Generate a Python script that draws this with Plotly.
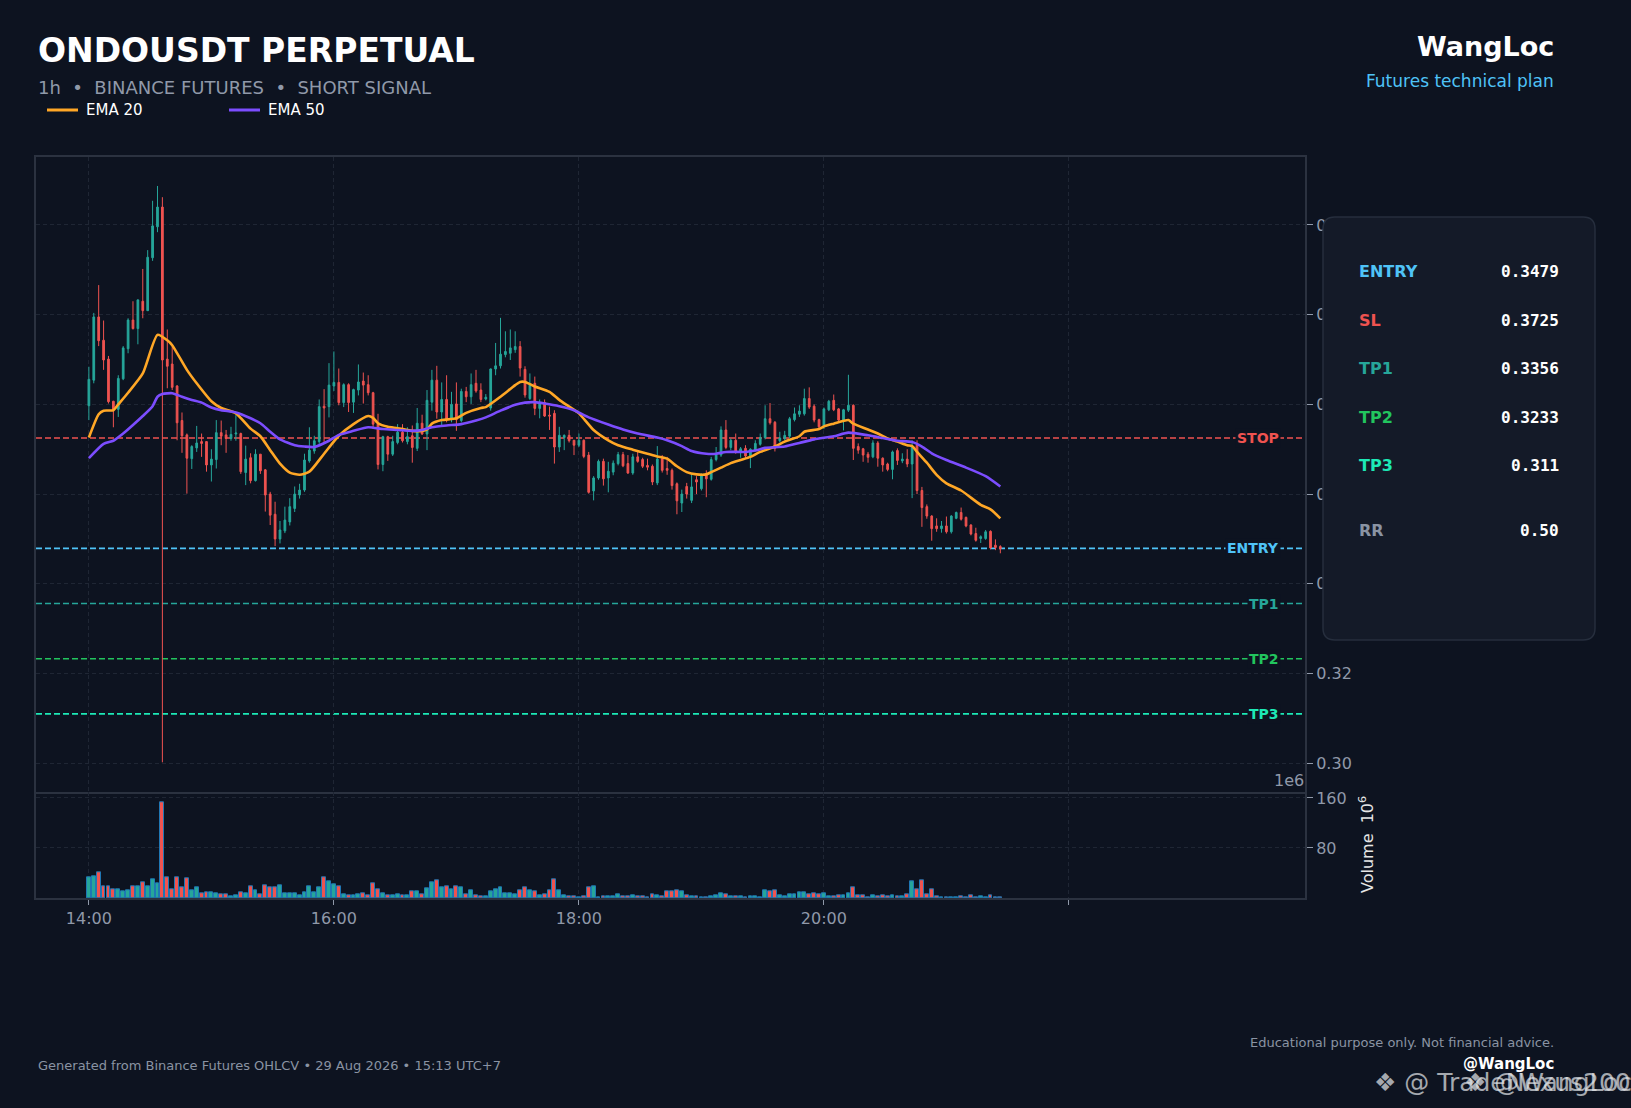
import plotly.graph_objects as go
from plotly.subplots import make_subplots
import pandas as pd

# ---------------- data ----------------
opens = [0.3797,0.3854,0.3995,0.3943,0.3901,0.3807,0.3789,0.3857,0.3924,0.3988,
         0.3969,0.4030,0.4009,0.4127,0.4196,0.4240,0.3901,0.3890,0.3841,0.3764,
         0.3732,0.3679,0.3703,0.3717,0.3717,0.3665,0.3677,0.3737,0.3732,0.3724,
         0.3734,0.3735,0.3648,0.3681,0.3630,0.3689,0.3654,0.3600,0.3555,0.3500,
         0.3518,0.3538,0.3568,0.3598,0.3609,0.3674,0.3696,0.3717,0.3796,0.3795,
         0.3841,0.3849,0.3804,0.3844,0.3805,0.3832,0.3852,0.3844,0.3826,0.3756,
         0.3666,0.3728,0.3689,0.3715,0.3738,0.3717,0.3730,0.3702,0.3758,0.3734,
         0.3805,0.3854,0.3783,0.3811,0.3768,0.3801,0.3764,0.3829,0.3817,0.3847,
         0.3832,0.3812,0.3792,0.3879,0.3886,0.3911,0.3914,0.3922,0.3929,0.3878,
         0.3813,0.3847,0.3791,0.3804,0.3776,0.3780,0.3705,0.3726,0.3731,0.3720,
         0.3709,0.3720,0.3687,0.3607,0.3636,0.3673,0.3636,0.3649,0.3668,0.3688,
         0.3668,0.3647,0.3683,0.3677,0.3664,0.3662,0.3625,0.3679,0.3657,0.3653,
         0.3623,0.3580,0.3617,0.3586,0.3632,0.3612,0.3645,0.3633,0.3677,0.3687,
         0.3743,0.3704,0.3720,0.3694,0.3702,0.3685,0.3698,0.3711,0.3726,0.3768,
         0.3760,0.3719,0.3724,0.3729,0.3766,0.3778,0.3779,0.3813,0.3796,0.3766,
         0.3750,0.3788,0.3809,0.3790,0.3765,0.3787,0.3798,0.3706,0.3701,0.3689,
         0.3683,0.3714,0.3680,0.3667,0.3655,0.3697,0.3674,0.3678,0.3667,0.3709,
         0.3608,0.3572,0.3551,0.3529,0.3523,0.3529,0.3516,0.3546,0.3559,0.3548,
         0.3531,0.3512,0.3501,0.3501,0.3517,0.3486,0.3483]
highs = [0.3884,0.4004,0.4066,0.3987,0.3908,0.3808,0.3865,0.3930,0.3992,0.4030,
         0.4034,0.4102,0.4144,0.4254,0.4287,0.4262,0.3967,0.3929,0.3843,0.3782,
         0.3735,0.3709,0.3752,0.3735,0.3717,0.3700,0.3765,0.3764,0.3743,0.3750,
         0.3776,0.3737,0.3708,0.3691,0.3700,0.3689,0.3656,0.3605,0.3583,0.3540,
         0.3572,0.3591,0.3617,0.3623,0.3690,0.3749,0.3730,0.3811,0.3834,0.3892,
         0.3918,0.3880,0.3847,0.3847,0.3835,0.3889,0.3871,0.3865,0.3828,0.3779,
         0.3730,0.3730,0.3730,0.3756,0.3756,0.3749,0.3753,0.3792,0.3777,0.3832,
         0.3877,0.3886,0.3849,0.3865,0.3828,0.3849,0.3835,0.3839,0.3869,0.3877,
         0.3847,0.3823,0.3880,0.3937,0.3993,0.3963,0.3967,0.3963,0.3941,0.3885,
         0.3869,0.3862,0.3811,0.3811,0.3795,0.3787,0.3750,0.3733,0.3743,0.3720,
         0.3735,0.3722,0.3694,0.3640,0.3677,0.3679,0.3672,0.3675,0.3694,0.3694,
         0.3687,0.3690,0.3698,0.3681,0.3679,0.3666,0.3707,0.3687,0.3683,0.3657,
         0.3626,0.3610,0.3625,0.3645,0.3640,0.3646,0.3653,0.3683,0.3705,0.3751,
         0.3765,0.3724,0.3735,0.3705,0.3709,0.3702,0.3720,0.3735,0.3798,0.3803,
         0.3763,0.3739,0.3741,0.3772,0.3793,0.3798,0.3835,0.3838,0.3800,0.3768,
         0.3793,0.3810,0.3822,0.3792,0.3790,0.3866,0.3800,0.3713,0.3703,0.3694,
         0.3720,0.3718,0.3682,0.3670,0.3697,0.3702,0.3691,0.3700,0.3720,0.3720,
         0.3616,0.3577,0.3553,0.3546,0.3540,0.3550,0.3553,0.3561,0.3570,0.3550,
         0.3533,0.3525,0.3508,0.3520,0.3519,0.3499,0.3486]
lows = [0.3765,0.3847,0.3930,0.3877,0.3802,0.3749,0.3772,0.3854,0.3914,0.3967,
        0.3934,0.3992,0.4009,0.4120,0.4184,0.3002,0.3836,0.3832,0.3720,0.3692,
        0.3601,0.3656,0.3694,0.3683,0.3650,0.3628,0.3657,0.3709,0.3692,0.3719,
        0.3719,0.3645,0.3620,0.3624,0.3628,0.3645,0.3561,0.3531,0.3484,0.3490,
        0.3513,0.3530,0.3560,0.3590,0.3605,0.3670,0.3690,0.3712,0.3712,0.3771,
        0.3830,0.3798,0.3794,0.3783,0.3781,0.3820,0.3802,0.3820,0.3745,0.3655,
        0.3651,0.3674,0.3685,0.3711,0.3715,0.3711,0.3670,0.3696,0.3732,0.3698,
        0.3786,0.3768,0.3753,0.3760,0.3760,0.3741,0.3760,0.3805,0.3801,0.3826,
        0.3805,0.3809,0.3786,0.3865,0.3880,0.3905,0.3899,0.3915,0.3862,0.3815,
        0.3810,0.3776,0.3769,0.3772,0.3743,0.3668,0.3694,0.3698,0.3715,0.3687,
        0.3705,0.3680,0.3601,0.3586,0.3632,0.3619,0.3604,0.3642,0.3664,0.3660,
        0.3645,0.3643,0.3670,0.3658,0.3653,0.3620,0.3620,0.3648,0.3643,0.3610,
        0.3555,0.3560,0.3590,0.3580,0.3600,0.3608,0.3593,0.3630,0.3673,0.3683,
        0.3700,0.3698,0.3690,0.3681,0.3680,0.3658,0.3695,0.3708,0.3722,0.3755,
        0.3695,0.3715,0.3720,0.3725,0.3762,0.3772,0.3775,0.3790,0.3760,0.3745,
        0.3745,0.3785,0.3785,0.3760,0.3742,0.3783,0.3676,0.3690,0.3672,0.3670,
        0.3680,0.3661,0.3650,0.3651,0.3633,0.3665,0.3669,0.3660,0.3591,0.3600,
        0.3527,0.3545,0.3496,0.3516,0.3514,0.3512,0.3512,0.3544,0.3541,0.3526,
        0.3508,0.3494,0.3491,0.3498,0.3477,0.3475,0.3468]
closes = [0.3856,0.3995,0.3942,0.3899,0.3806,0.3789,0.3858,0.3926,0.3988,0.3969,
          0.4033,0.4009,0.4128,0.4198,0.4240,0.3899,0.3885,0.3838,0.3759,0.3730,
          0.3680,0.3706,0.3714,0.3713,0.3665,0.3678,0.3737,0.3729,0.3724,0.3733,
          0.3736,0.3650,0.3678,0.3630,0.3689,0.3652,0.3598,0.3553,0.3500,0.3520,
          0.3542,0.3572,0.3600,0.3609,0.3676,0.3698,0.3719,0.3795,0.3792,0.3843,
          0.3849,0.3804,0.3844,0.3804,0.3833,0.3850,0.3843,0.3826,0.3756,0.3666,
          0.3728,0.3689,0.3717,0.3738,0.3719,0.3728,0.3704,0.3758,0.3734,0.3809,
          0.3854,0.3783,0.3811,0.3768,0.3800,0.3766,0.3829,0.3817,0.3844,0.3830,
          0.3811,0.3816,0.3879,0.3886,0.3912,0.3918,0.3926,0.3929,0.3881,0.3821,
          0.3843,0.3791,0.3802,0.3774,0.3774,0.3705,0.3731,0.3731,0.3719,0.3709,
          0.3720,0.3684,0.3604,0.3636,0.3673,0.3634,0.3651,0.3669,0.3688,0.3663,
          0.3647,0.3683,0.3673,0.3662,0.3660,0.3627,0.3678,0.3653,0.3653,0.3619,
          0.3585,0.3600,0.3600,0.3616,0.3627,0.3642,0.3634,0.3677,0.3689,0.3743,
          0.3704,0.3720,0.3694,0.3701,0.3685,0.3700,0.3713,0.3726,0.3768,0.3759,
          0.3702,0.3725,0.3731,0.3768,0.3779,0.3785,0.3813,0.3794,0.3765,0.3750,
          0.3790,0.3807,0.3788,0.3765,0.3788,0.3798,0.3702,0.3698,0.3687,0.3682,
          0.3714,0.3680,0.3665,0.3655,0.3694,0.3675,0.3678,0.3667,0.3706,0.3608,
          0.3570,0.3551,0.3523,0.3523,0.3529,0.3516,0.3551,0.3559,0.3544,0.3529,
          0.3511,0.3497,0.3505,0.3516,0.3480,0.3481,0.3478]
volumes = [32.5,34.1,40.5,19.2,19.2,13.3,13.3,10.1,11.7,19.2,
           19.2,24.5,19.2,29.3,22.9,153.6,33.6,14.4,32.5,17.6,
           32.0,11.7,16.5,8.0,9.6,9.6,8.0,6.4,6.4,3.2,
           4.8,9.6,8.0,19.2,11.7,6.4,20.8,17.6,17.6,20.8,
           8.0,8.0,8.0,4.8,9.6,19.2,9.6,17.6,32.5,26.1,
           21.3,19.2,6.4,4.8,4.8,6.4,8.0,4.8,22.9,13.3,
           8.0,4.8,4.8,6.4,4.8,4.8,10.1,10.1,6.4,14.9,
           24.5,27.7,16.5,19.2,13.3,19.2,16.5,6.4,11.7,4.8,
           3.2,3.2,10.1,13.3,17.6,8.0,8.0,6.4,11.7,17.6,
           11.7,10.1,4.8,6.4,11.7,29.3,11.7,4.8,3.2,3.2,
           1.6,3.2,16.5,18.1,1.6,3.2,3.2,3.2,6.4,3.2,
           3.2,4.8,3.2,3.2,1.6,6.4,4.8,3.2,10.1,10.1,
           11.7,10.1,4.8,3.2,3.2,1.6,1.6,3.2,4.8,8.0,
           6.4,3.2,3.2,3.2,1.6,3.2,3.2,1.6,11.7,10.1,
           11.7,4.8,3.2,6.4,6.4,9.6,9.6,6.4,8.0,6.4,
           8.0,3.2,3.2,4.8,4.8,8.0,16.5,4.8,4.8,1.6,
           4.8,3.2,4.8,3.2,4.8,3.2,3.2,6.4,26.1,13.3,
           27.7,6.4,13.3,3.2,1.6,1.6,1.6,1.6,3.2,1.6,
           4.8,1.6,3.2,1.6,4.8,1.6,0.8]

ema20_idx = [0,2,3,5,6,8,11,14,16,17,20,22,25,27,30,33,35,37,39,41,43,45,48,51,54,57,58,59,61,63,
             66,68,69,70,72,75,77,80,81,84,87,88,89,91,94,96,98,100,103,106,108,111,114,116,118,
             120,122,124,126,127,129,131,133,135,137,140,142,145,146,149,150,152,155,156,159,161,
             163,165,167,168,169,171,173,175,178,182,184,186]
ema20_val = [0.3726,0.3778,0.3786,0.3787,0.3800,0.3826,0.3869,0.3955,0.3943,0.3932,0.3877,0.3847,
             0.3807,0.3792,0.3780,0.3746,0.3729,0.3698,0.3668,0.3648,0.3643,0.3650,0.3690,0.3730,
             0.3756,0.3774,0.3770,0.3758,0.3750,0.3747,0.3741,0.3741,0.3744,0.3757,0.3765,0.3769,
             0.3781,0.3792,0.3794,0.3817,0.3843,0.3850,0.3850,0.3840,0.3828,0.3810,0.3795,0.3780,
             0.3743,0.3720,0.3709,0.3699,0.3690,0.3684,0.3679,0.3662,0.3649,0.3644,0.3644,0.3649,
             0.3659,0.3669,0.3676,0.3683,0.3694,0.3706,0.3717,0.3729,0.3739,0.3745,0.3751,0.3757,
             0.3765,0.3757,0.3744,0.3735,0.3724,0.3717,0.3709,0.3707,0.3694,0.3670,0.3643,0.3624,
             0.3608,0.3576,0.3566,0.3546]
ema50_idx = [0,3,5,7,9,11,13,14,15,17,19,21,23,25,27,30,33,35,37,39,42,44,46,49,51,54,57,60,63,66,
             68,70,73,76,79,81,84,87,89,91,93,96,99,102,106,109,112,116,118,121,123,126,128,130,
             134,136,138,142,145,148,152,155,159,162,165,168,170,172,175,179,183,186]
ema50_val = [0.3680,0.3712,0.3719,0.3735,0.3754,0.3774,0.3796,0.3817,0.3823,0.3825,0.3817,0.3810,
             0.3804,0.3793,0.3787,0.3782,0.3769,0.3758,0.3739,0.3722,0.3709,0.3706,0.3705,0.3719,
             0.3732,0.3741,0.3749,0.3745,0.3743,0.3741,0.3743,0.3749,0.3753,0.3756,0.3764,0.3771,
             0.3786,0.3799,0.3804,0.3805,0.3802,0.3796,0.3787,0.3771,0.3755,0.3744,0.3735,0.3726,
             0.3720,0.3707,0.3696,0.3690,0.3690,0.3694,0.3694,0.3697,0.3703,0.3706,0.3714,0.3722,
             0.3729,0.3737,0.3731,0.3725,0.3719,0.3716,0.3706,0.3691,0.3676,0.3659,0.3640,0.3617]

level_names = ["STOP", "ENTRY", "TP1", "TP2", "TP3"]
level_values = [0.3725, 0.3479, 0.3356, 0.3233, 0.311]
level_colors = ["#ef5350", "#4fc3f7", "#26a69a", "#22c55e", "#1de9b6"]

panel_labels = ["ENTRY", "SL", "TP1", "TP2", "TP3", "RR"]
panel_values = ["0.3479", "0.3725", "0.3356", "0.3233", "0.311", "0.50"]
panel_colors = ["#4fc3f7", "#ef5350", "#26a69a", "#22c55e", "#1de9b6", "#8a93a3"]

x_tick_hours = [14, 16, 18, 20, 22]
x_tick_labels = ["14:00", "16:00", "18:00", "20:00", " "]
price_ticks = [0.30, 0.32, 0.34, 0.36, 0.38, 0.40, 0.42]
vol_ticks = [80, 160]

# ---------------- styling / geometry ----------------
W, H = 1631, 1108
ML, MR, MT, MB = 36, 326, 157, 210
PW, PH = W - ML - MR, H - MT - MB
BG = "#0d1320"
PANEL_BG = "#141a28"
FRAME = "#2b3240"
GRID = "#1f2634"
TXT_GRAY = "#9099a9"
UP, DOWN = "#26a69a", "#ef5350"
FONT = "DejaVu Sans"


def xp(px):
    return (px - ML) / PW


def yp(py):
    return (H - MB - py) / PH


start = pd.Timestamp("2026-08-29 14:00:00")
step = pd.Timedelta(seconds=144)
times = [start + i * step for i in range(len(opens))]
vol_colors = [UP if c >= o else DOWN for o, c in zip(opens, closes)]
ema20_t = [times[i] for i in ema20_idx]
ema50_t = [times[i] for i in ema50_idx]
tickvals = [start + pd.Timedelta(hours=h - 14) for h in x_tick_hours]
x_range = [start - pd.Timedelta(minutes=25.9), start + pd.Timedelta(hours=9.927)]

vol_split = (H - MB - 792.3) / PH

fig = make_subplots(rows=2, cols=1, shared_xaxes=True, vertical_spacing=0)

fig.add_trace(go.Candlestick(
    x=times, open=opens, high=highs, low=lows, close=closes,
    increasing=dict(line=dict(color=UP, width=1), fillcolor=UP),
    decreasing=dict(line=dict(color=DOWN, width=1), fillcolor=DOWN),
    showlegend=False, name="ONDOUSDT"), row=1, col=1)

fig.add_trace(go.Scatter(x=ema20_t, y=ema20_val, mode="lines", name="EMA 20",
                         line=dict(color="#ffa726", width=2.6, shape="spline", smoothing=0.6),
                         showlegend=False), row=1, col=1)
fig.add_trace(go.Scatter(x=ema50_t, y=ema50_val, mode="lines", name="EMA 50",
                         line=dict(color="#7c4dff", width=2.6, shape="spline", smoothing=0.6),
                         showlegend=False), row=1, col=1)

fig.add_trace(go.Bar(x=times, y=volumes, marker=dict(color=vol_colors,
                                                      line=dict(color="#1f77b4", width=1)),
                     width=0.78 * 144000, showlegend=False, name="Volume"), row=2, col=1)

# level lines + labels
for name, val, col in zip(level_names, level_values, level_colors):
    fig.add_shape(type="line", xref="x domain", x0=0, x1=1, yref="y", y0=val, y1=val,
                  line=dict(color=col, width=1.6, dash="6px,3px"), layer="below")
    fig.add_annotation(x=xp(1281), xref="paper", y=val, yref="y", text=f"<b>{name}</b>",
                       showarrow=False, xanchor="right", yanchor="middle",
                       font=dict(family=FONT, size=14, color=col), bgcolor=BG, borderpad=1)

axis_common = dict(showline=True, linecolor=FRAME, linewidth=2,
                   showgrid=True, gridcolor=GRID, griddash="4px,3px", gridwidth=1,
                   zeroline=False)

fig.update_xaxes(type="date", range=x_range, tickvals=tickvals, ticktext=x_tick_labels,
                 **axis_common)
fig.update_xaxes(showticklabels=False, ticks="", mirror=True, row=1, col=1,
                 rangeslider_visible=False)
fig.update_xaxes(ticks="outside", ticklen=5, tickcolor=TXT_GRAY, mirror=False,
                 tickfont=dict(family=FONT, size=16, color=TXT_GRAY), row=2, col=1)

fig.update_yaxes(range=[0.29351, 0.43516], side="right", tickvals=price_ticks,
                 tickformat=".2f", ticks="outside", ticklen=6, tickcolor=TXT_GRAY, mirror=True,
                 tickfont=dict(family=FONT, size=16, color=TXT_GRAY),
                 domain=[vol_split, 1], row=1, col=1, **axis_common)
fig.update_yaxes(range=[0, 169], side="right", tickvals=vol_ticks, ticks="outside",
                 ticklen=6, tickcolor=TXT_GRAY, mirror=True,
                 tickfont=dict(family=FONT, size=16, color=TXT_GRAY),
                 domain=[0, vol_split], row=2, col=1, **axis_common)

# info panel (rounded rectangle)
x0, x1 = xp(1323), xp(1595)
y0, y1 = yp(640), yp(217)
rx, ry = 12 / PW, 12 / PH
panel_path = (f"M {x0+rx},{y1} L {x1-rx},{y1} Q {x1},{y1} {x1},{y1-ry} "
              f"L {x1},{y0+ry} Q {x1},{y0} {x1-rx},{y0} L {x0+rx},{y0} "
              f"Q {x0},{y0} {x0},{y0+ry} L {x0},{y1-ry} Q {x0},{y1} {x0+rx},{y1} Z")
fig.add_shape(type="path", path=panel_path, xref="paper", yref="paper",
              fillcolor=PANEL_BG, line=dict(color="#262e3d", width=1.5), layer="above")

row_y = [271.5, 320.4, 368.2, 417.1, 465, 530.5]
for lab, val, col, ry_ in zip(panel_labels, panel_values, panel_colors, row_y):
    fig.add_annotation(x=xp(1357), y=yp(ry_), xref="paper", yref="paper", text=f"<b>{lab}</b>",
                       showarrow=False, xanchor="left", yanchor="middle",
                       font=dict(family=FONT, size=16, color=col))
    fig.add_annotation(x=xp(1561), y=yp(ry_), xref="paper", yref="paper", text=f"<b>{val}</b>",
                       showarrow=False, xanchor="right", yanchor="middle",
                       font=dict(family="DejaVu Sans Mono", size=16, color="#ffffff"))

# legend (manual)
for (lx0, lx1, tx, lab, col) in [(47, 78, 84, "EMA 20", "#ffa726"), (229, 260, 266, "EMA 50", "#7c4dff")]:
    fig.add_shape(type="line", xref="paper", yref="paper", x0=xp(lx0), x1=xp(lx1),
                  y0=yp(110), y1=yp(110), line=dict(color=col, width=3), layer="above")
    fig.add_annotation(x=xp(tx), y=yp(110), xref="paper", yref="paper", text=lab,
                       showarrow=False, xanchor="left", yanchor="middle",
                       font=dict(family=FONT, size=15, color="#ffffff"))

texts = [
    dict(x=36, y=51, text="<b>ONDOUSDT PERPETUAL</b>", anchor="left", size=33, color="#ffffff"),
    dict(x=36, y=87, text="1h  •  BINANCE FUTURES  •  SHORT SIGNAL", anchor="left", size=18, color=TXT_GRAY),
    dict(x=1556, y=47, text="<b>WangLoc</b>", anchor="right", size=27, color="#ffffff"),
    dict(x=1556, y=81, text="Futures technical plan", anchor="right", size=17, color="#4fc3f7"),
    dict(x=36, y=1065, text="Generated from Binance Futures OHLCV • 29 Aug 2026 • 15:13 UTC+7",
         anchor="left", size=13, color="#8a93a3"),
    dict(x=1556, y=1042, text="Educational purpose only. Not financial advice.", anchor="right",
         size=13, color="#8a93a3"),
    dict(x=1556, y=1064, text="<b>@WangLoc</b>", anchor="right", size=15, color="#ffffff"),
    dict(x=1289, y=780, text="1e6", anchor="center", size=16, color=TXT_GRAY),
]
for t in texts:
    fig.add_annotation(x=xp(t["x"]), y=yp(t["y"]), xref="paper", yref="paper", text=t["text"],
                       showarrow=False, xanchor=t["anchor"], yanchor="middle",
                       font=dict(family=FONT, size=t["size"], color=t["color"]))

fig.add_annotation(x=xp(1366), y=yp(845), xref="paper", yref="paper",
                   text="Volume  10<sup>6</sup>", textangle=-90, showarrow=False,
                   xanchor="center", yanchor="middle",
                   font=dict(family=FONT, size=16, color="#e6e6e6"))

# watermark overlay
for wx, wt in [(1372, "❖ @ TradeNexus2000"), (1462, "❖ @WangLoc")]:
    fig.add_annotation(x=xp(wx), y=yp(1082), xref="paper", yref="paper", text=wt,
                       showarrow=False, xanchor="left", yanchor="middle",
                       font=dict(family=FONT, size=25, color="rgba(225,228,232,0.72)"))

fig.update_layout(
    width=W, height=H, autosize=False,
    margin=dict(l=ML, r=MR, t=MT, b=MB, pad=0),
    paper_bgcolor=BG, plot_bgcolor=BG,
    font=dict(family=FONT, color=TXT_GRAY),
    showlegend=False, boxgap=0.5, bargap=0,
    hovermode=False,
)

fig.write_html("out.html", config={"displayModeBar": False},
               post_script="document.body.style.margin='0';document.body.style.background='%s';" % BG)
